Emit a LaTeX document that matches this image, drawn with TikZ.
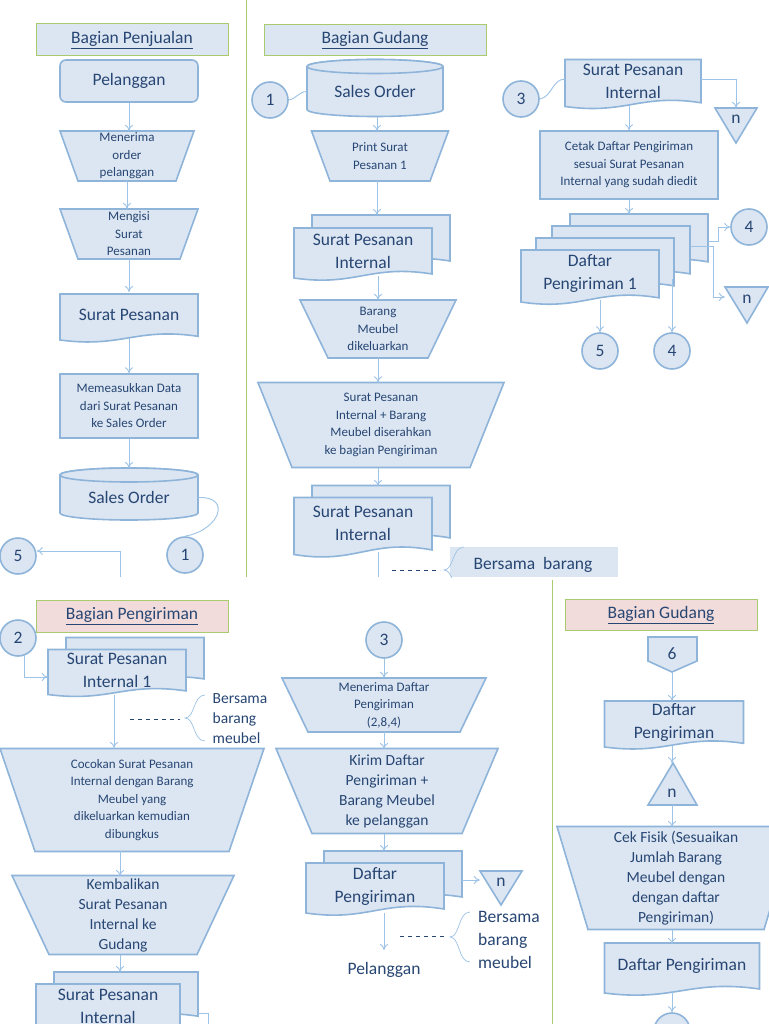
\documentclass[tikz,border=0pt]{standalone}
\usepackage{fontspec}
\setmainfont{Carlito}
\usetikzlibrary{arrows.meta,calc}
\definecolor{fc}{HTML}{DCE6F2}
\definecolor{lc}{HTML}{8EB4DA}
\definecolor{ac}{HTML}{9DC3E6}
\definecolor{tc}{HTML}{274673}
\definecolor{gc}{HTML}{A9CB6E}
\definecolor{pk}{HTML}{F2DCDB}
\tikzset{
 ln/.style={draw=lc,line width=1.6pt,fill=fc},
 ar/.style={draw=ac,line width=0.9pt,-{To[length=6pt,width=8pt]}},
 pl/.style={draw=ac,line width=0.9pt},
 tx/.style={text=tc,align=center,inner sep=0pt},
 fs/.style={font=\fontsize{13}{17.5}\selectfont},
 fm/.style={font=\fontsize{15.5}{20}\selectfont},
 fl/.style={font=\fontsize{17.5}{23}\selectfont},
 circ/.style={circle,ln,minimum size=36pt,inner sep=0pt,tx,fl},
 hdr/.style={draw=gc,line width=1pt,tx,fl,minimum width=192pt,minimum height=32pt},
 dsh/.style={draw=tc,line width=0.8pt,dash pattern=on 4pt off 4pt}
}
\newcommand\docshape[4]{\path[ln] ({#1-#3/2},{#2-#4/2}) -- ({#1+#3/2},{#2-#4/2}) -- ({#1+#3/2},{#2+#4/2-0.08*#4}) .. controls ({#1+0.05*#3},{#2+#4/2-0.28*#4}) and ({#1-0.05*#3},{#2+#4/2+0.18*#4}) .. ({#1-#3/2},{#2+#4/2}) -- cycle;}
\newcommand\docu[7]{\docshape{#2}{#3}{#4}{#5}\node[tx,#6,minimum width=#4pt,minimum height=#5pt] (#1) at (#2,{#3-0.04*#5}) {#7};}
\newcommand\trapz[8]{\path[ln] ({#2-#4/2},{#3-#6/2}) -- ({#2+#4/2},{#3-#6/2}) -- ({#2+#5/2},{#3+#6/2}) -- ({#2-#5/2},{#3+#6/2}) -- cycle;\node[tx,#7,minimum width=#5pt,minimum height=#6pt] (#1) at (#2,#3) {#8};}
\newcommand\cyl[7]{\path[ln] ({#2-#4/2},{#3-#5/2+7}) -- ({#2-#4/2},{#3+#5/2-7}) arc[start angle=180,end angle=360,x radius={#4*0.5pt},y radius=7pt] -- ({#2+#4/2},{#3-#5/2+7}) arc[start angle=0,end angle=180,x radius={#4*0.5pt},y radius=7pt] -- cycle;
\path[ln] (#2,{#3-#5/2+7}) ellipse[x radius={#4*0.5pt},y radius=7pt];
\node[tx,#6,minimum width=#4pt,minimum height=#5pt] (#1) at (#2,{#3+3.5}) {#7};}
\newcommand\annbr[3]{\draw[pl,line width=0.7pt] ({#1+12},#2) .. controls (#1,#2) and ({#1+2},{(#2+#3)/2}) .. ({#1-8},{(#2+#3)/2}) .. controls ({#1+2},{(#2+#3)/2}) and (#1,#3) .. ({#1+12},#3);}
\begin{document}
\begin{tikzpicture}[x=1pt,y=-1pt]
\useasboundingbox (0,0) rectangle (768,1024);
\fill[white] (0,0) rectangle (768,1024);
% ===== top section =====
\draw[gc,line width=1pt] (246,0) -- (246,577);
\node[hdr,fill=fc] (h1) at (132,40) {\underline{Bagian Penjualan}};
\node[ln,rounded corners=6pt,tx,fl,minimum width=138pt,minimum height=42pt] (pel) at (129,81) {Pelanggan};
\trapz{men}{127}{156}{134}{98}{50}{fs}{Menerima\\order\\pelanggan}
\trapz{mis}{129}{234}{138}{102}{50}{fs}{Mengisi\\Surat\\Pesanan}
\docu{sp}{129}{317}{138}{46}{fl}{Surat Pesanan}
\node[ln,tx,fs,minimum width=138pt,minimum height=64pt] (mem) at (129,406) {Memeasukkan Data\\dari Surat Pesanan\\ke Sales Order};
\cyl{so1}{129}{494}{138}{52}{fl}{Sales Order}
\node[circ] (c1a) at (185,555) {1};
\node[circ] (c5a) at (18,556) {5};
\draw[ar] (pel.south) -- (pel.south |- men.north);
\draw[ar] (men.south) -- (men.south |- mis.north);
\draw[ar] (mis.south) -- (mis.south |- sp.north);
\draw[ar] (129,338) -- (mem.north);
\draw[ar] (mem.south) -- (129,468);
\draw[pl] (so1.east) .. controls (232,496) and (220,530) .. (c1a.north);
\coordinate (l5) at (120,577);
\draw[ar] (l5) |- ([yshift=5pt]c5a.east);
\node[hdr,fill=fc,minimum width=222pt,minimum height=31pt] (h2) at (375,40) {\underline{Bagian Gudang}};
\node[circ] (c1b) at (270,100) {1};
\cyl{so2}{375}{88}{136}{57}{fl}{Sales Order}
\draw[pl] (c1b.east) to[out=10,in=180] (so2.west);
\trapz{prt}{380}{156}{137}{100}{50}{fs}{Print Surat\\Pesanan 1}
\draw[ar] (377,117) -- (377,131);
\docshape{381}{240}{138}{50}
\coordinate (spi2t) at (377,215);
\docu{spi2}{363}{253}{138}{50}{fl}{Surat Pesanan\\Internal}
\draw[ar] (377,181) -- (spi2t);
\trapz{bmd}{378}{329}{156}{100}{58}{fs}{Barang\\Meubel\\dikeluarkan}
\draw[ar] (bmd.north |- spi2.south) -- (bmd.north);
\trapz{spd}{381}{425}{246}{178}{85}{fs}{Surat Pesanan\\Internal + Barang\\Meubel diserahkan\\ke bagian Pengiriman}
\draw[ar] (bmd.south) -- (bmd.south |- spd.north);
\docshape{381}{514}{138}{57}
\coordinate (spi4t) at (378,486);
\docu{spi4}{363}{526}{138}{57}{fl}{Surat Pesanan\\Internal}
\draw[ar] (378,468) -- (spi4t);
\coordinate (e4) at (378,577);
\draw[pl] (378,552) -- (e4);
\draw[dsh] (392,570) -- (440,570);
\begin{scope}
\clip (430,540) rectangle (640,577);
\fill[fc] (450,547) rectangle (618,577);
\annbr{452}{547}{593}
\end{scope}
\node[tx,fl] (bb1) at (533,565) {Bersama\ \ barang};
\node[circ] (c3a) at (521,99) {3};
\docu{spi3}{633}{83}{136}{47}{fl}{Surat Pesanan\\Internal}
\draw[pl] (c3a.east) to[out=10,in=180] ([yshift=2pt]spi3.west);
\path[ln] (715,108) -- (757,108) -- (736,143) -- cycle;
\node[minimum width=42pt,minimum height=35pt] (n1) at (736,125.5) {};
\node[tx,fl] (n1t) at (736,119) {n};
\draw[ar] ([yshift=2pt]spi3.east) -| (n1.north);
\node[ln,tx,fs,minimum width=178pt,minimum height=68pt] (cetak) at (629,165) {Cetak Daftar Pengiriman\\sesuai Surat Pesanan\\Internal yang sudah diedit};
\draw[ar] (cetak.north |- spi3.south) -- (cetak.north);
\docshape{639}{240}{138}{52}
\docshape{621}{252}{138}{52}
\docshape{605}{264}{138}{52}
\docu{dp1}{590}{276}{138}{52}{fl}{Daftar\\Pengiriman 1}
\coordinate (dpb) at (629,214);
\draw[ar] (cetak.south) -- (dpb);
\node[circ] (c4a) at (749,227) {4};
\coordinate (b1r) at (708,241);
\draw[ar] (b1r) -- (718,241) |- (c4a.west);
\path[ln] (725,287) -- (768,287) -- (747,323) -- cycle;
\node[minimum width=42pt,minimum height=36pt] (n2) at (746,305) {};
\node[tx,fl] (n2t) at (747,299) {n};
\coordinate (b2r) at (690,246);
\draw[ar] (b2r) -- (713,246) |- ([yshift=8pt]n2.west);
\node[circ] (c5b) at (600,351) {5};
\node[circ] (c4b) at (672,351) {4};
\draw[ar] (c5b.north |- dp1.south) -- (c5b.north);
\coordinate (b3b) at (672,279);
\draw[ar] (b3b) -- (c4b.north);
% ===== bottom section =====
\draw[gc,line width=1pt] (552,580) -- (552,1024);
\node[hdr,fill=pk] (h3) at (132,616) {\underline{Bagian Pengiriman}};
\node[circ] (c2) at (18,638) {2};
\docshape{135}{660}{138}{45}
\docu{spi5}{117}{672}{138}{45}{fl}{Surat Pesanan\\Internal 1}
\coordinate (c2l) at (24,677);
\draw[ar] (24,655) -- (c2l) -- (spi5.west |- c2l);
\trapz{cco}{132}{800}{264}{194}{103}{fs}{Cocokan Surat Pesanan\\Internal dengan Barang\\Meubel yang\\dikeluarkan kemudian\\dibungkus}
\draw[ar] (114,695) -- (114,748);
\draw[dsh] (130,719) -- (180,719);
\annbr{193}{695}{741}
\node[tx,fm,align=left] (bm1) at (240,719) {Bersama\\barang\\meubel};
\trapz{kem}{123}{915}{222}{148}{79}{fm}{Kembalikan\\Surat Pesanan\\Internal ke\\Gudang}
\draw[ar] (120,851) -- (120,876);
\docshape{126}{996}{144}{48}
\coordinate (spi6t) at (120,972);
\docu{spi6}{108}{1008}{144}{48}{fl}{Surat Pesanan\\Internal}
\draw[ar] (120,955) -- (spi6t);
\draw[pl] (198,1013) -- (208,1013) -- (208,1024);
\node[circ] (c3b) at (384,640) {3};
\trapz{mdp}{384}{705}{204}{152}{54}{fs}{Menerima Daftar\\Pengiriman\\(2,8,4)}
\draw[ar] (c3b.south) -- (mdp.north);
\trapz{kdp}{387}{791}{222}{150}{85}{fm}{Kirim Daftar\\Pengiriman +\\Barang Meubel\\ke pelanggan}
\draw[ar] (384,732) -- (384,749);
\docshape{393}{876}{138}{50}
\coordinate (dp2t) at (384,851);
\docu{dp2}{375}{888}{138}{50}{fl}{Daftar\\Pengiriman}
\draw[ar] (384,834) -- (dp2t);
\path[ln] (480,871) -- (522,871) -- (501,905) -- cycle;
\node[minimum width=42pt,minimum height=34pt] (n3) at (501,888) {};
\node[tx,fl] (n3t) at (501,882) {n};
\coordinate (b4r) at (462,880);
\draw[ar] (b4r) -- (n3.west |- b4r);
\node[tx,fl] (plg) at (384,970) {Pelanggan};
\draw[ar] (384,913) -- (384,950);
\draw[dsh] (400,936) -- (445,936);
\annbr{458}{912}{962}
\node[tx,fl,align=left] (bm2) at (509,940) {Bersama\\barang\\meubel};
\node[hdr,fill=pk,minimum height=31pt] (h4) at (661,615) {\underline{Bagian Gudang}};
\path[ln] (648,637) -- (697,637) -- (697,661) -- (672,672) -- (648,661) -- cycle;
\node[tx,fl,minimum width=49pt,minimum height=35pt] (p6) at (672,654) {6};
\docu{dp3}{674}{724}{139}{46}{fl}{Daftar\\Pengiriman}
\draw[ar] (672,672) -- (672,701);
\path[ln] (673,763) -- (697,805) -- (648,805) -- cycle;
\node[minimum width=49pt,minimum height=42pt] (n4) at (672,784) {};
\node[tx,fl] (n4t) at (672,793) {n};
\draw[ar] (672,745) -- (672,763);
\trapz{cek}{676}{878}{238}{176}{103}{fm}{Cek Fisik (Sesuaikan\\Jumlah Barang\\Meubel dengan\\dengan daftar\\Pengiriman)}
\draw[ar] (672,805) -- (672,827);
\docu{dpg}{682}{968}{155}{50}{fl}{Daftar Pengiriman}
\draw[ar] (672,930) -- (672,944);
\node[circ] (c7) at (672,1031) {};
\draw[ar] (672,992) -- (c7.north);
\end{tikzpicture}
\end{document}
